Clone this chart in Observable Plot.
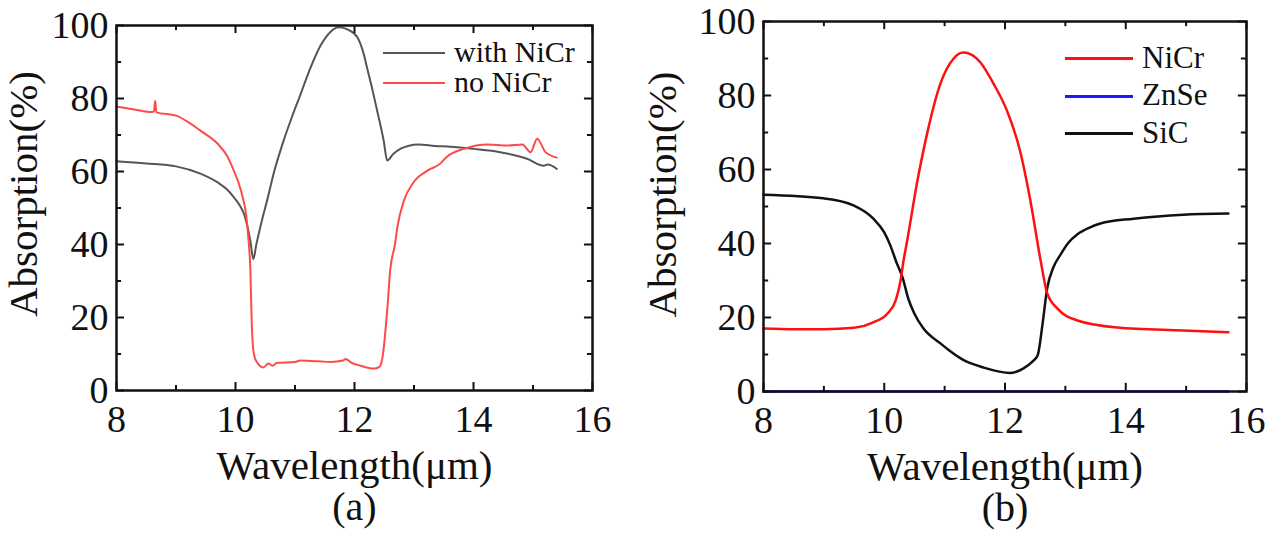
<!DOCTYPE html>
<html><head><meta charset="utf-8">
<script src="https://cdn.jsdelivr.net/npm/d3@7"></script>
<script src="https://cdn.jsdelivr.net/npm/@observablehq/plot@0.6"></script>
<style>
body{margin:0;background:#fff;}
#wrap{position:relative;width:1270px;height:538px;overflow:hidden;}
.panel{position:absolute;top:0;}
.item{position:absolute;display:flex;align-items:center;white-space:nowrap;color:#111;}
.sw{display:inline-block;}
#wrap, #wrap *{font-family:"Liberation Serif","Times New Roman",serif !important;}
</style></head><body><div id="wrap"></div>
<script>
// ---- axes ----
const xMajor = [8, 10, 12, 14, 16];
const xMinor = [9, 11, 13, 15];
const yMajor = [0, 20, 40, 60, 80, 100];
const yMinor = [10, 30, 50, 70, 90];
const xLabel = "Wavelength(μm)";
const yLabel = "Absorption(%)";

// ---- panel (a) series: [wavelength µm, absorption %] ----
const aNames = ["with NiCr", "no NiCr"];
const withNiCr = [
  [8.0,62.8],[8.5,62.2],[9.0,61.4],[9.41,59.4],[9.70,57.0],[9.85,55.2],[9.97,53.0],[10.08,50.5],[10.14,48.5],
  [10.2,45.0],[10.25,41.0],[10.30,36.0],[10.35,40.0],[10.45,47.0],[10.53,52.0],[10.65,60.0],[10.81,68.5],[10.95,75.0],
  [11.09,81.0],[11.25,88.0],[11.43,94.5],[11.6,98.3],[11.73,99.5],[11.9,98.8],[12.05,96.7],[12.15,92.5],
  [12.21,88.5],[12.30,82.5],[12.38,76.7],[12.49,68.5],[12.55,63.0],[12.65,64.8],[12.77,66.2],[12.9,67.0],
  [13.08,67.4],[13.35,67.0],[13.61,66.8],[14.0,66.2],[14.45,65.3],[14.9,63.5],[15.18,61.6],[15.25,61.9],[15.4,60.7]
];
const noNiCr = [
  [8.0,77.8],[8.3,77.0],[8.6,76.3],[8.63,76.5],[8.65,79.4],[8.67,76.2],[9.0,75.3],[9.2,73.6],[9.41,71.2],
  [9.70,67.6],[9.85,64.5],[9.97,60.3],[10.05,57.0],[10.12,53.0],[10.18,48.0],[10.22,41.0],[10.25,33.0],
  [10.27,20.0],[10.30,11.0],[10.35,8.0],[10.47,6.3],[10.55,7.4],[10.62,6.8],[10.70,7.6],[11.0,7.8],
  [11.09,8.2],[11.4,8.0],[11.6,7.8],[11.81,8.2],[11.85,8.6],[11.95,7.6],[12.1,6.8],[12.32,6.0],[12.42,6.5],
  [12.47,9.0],[12.55,22.0],[12.6,33.0],[12.68,40.0],[12.72,44.7],[12.83,52.0],[12.99,57.0],[13.23,60.3],
  [13.45,62.3],[13.5,63.2],[13.55,64.0],[13.84,66.2],[14.24,67.4],[14.57,67.1],[14.82,67.4],[14.96,65.3],
  [15.07,69.0],[15.21,65.3],[15.4,63.8]
];

// ---- panel (b) series ----
const bNames = ["NiCr", "ZnSe", "SiC"];
const simNiCr = [
  [8.0,17.0],[8.5,16.8],[9.0,16.8],[9.5,17.2],[9.82,18.7],[10.05,21.0],[10.19,24.6],[10.27,30.0],[10.32,35.4],
  [10.38,40.8],[10.55,57.0],[10.71,69.7],[10.93,83.2],[11.15,90.0],[11.31,91.6],[11.45,91.0],[11.59,89.0],
  [11.81,83.2],[12.03,76.0],[12.25,65.0],[12.42,51.6],[12.59,35.4],[12.7,26.5],[12.87,22.4],[13.2,19.2],
  [13.86,17.3],[14.95,16.5],[15.7,16.0]
];
const simZnSe = [[8.0,0],[10.0,0],[12.0,0],[14.0,0],[15.7,0]];
const simSiC = [
  [8.0,53.2],[8.99,52.2],[9.49,50.3],[9.82,46.7],[10.0,43.0],[10.1,39.5],[10.2,35.0],[10.3,31.0],[10.4,25.0],
  [10.5,21.0],[10.65,17.0],[10.93,13.0],[11.1,10.8],[11.3,8.6],[11.64,6.5],[12.09,5.0],[12.3,6.2],[12.45,8.0],
  [12.54,9.7],[12.62,18.0],[12.7,28.0],[12.8,33.5],[12.92,37.0],[13.05,40.2],[13.2,42.5],[13.4,44.3],
  [13.58,45.4],[14.13,46.7],[14.95,47.8],[15.7,48.1]
];

const font = "Liberation Serif";
function setFont(el){ el.style.setProperty("font-family", "'Liberation Serif', 'Times New Roman', serif", "important"); }

function tickRules(){
  return [
    Plot.ruleX(xMajor, {x: d => d, y1: 0, y2: 2.2, strokeWidth: 2, stroke: "#111"}),
    Plot.ruleX(xMinor, {x: d => d, y1: 0, y2: 1.4, strokeWidth: 2, stroke: "#111"}),
    Plot.ruleX(xMajor, {x: d => d, y1: 100, y2: 97.8, strokeWidth: 2, stroke: "#111"}),
    Plot.ruleX(xMinor, {x: d => d, y1: 100, y2: 98.6, strokeWidth: 2, stroke: "#111"}),
    Plot.ruleY(yMajor, {y: d => d, x1: 8, x2: 8.135, strokeWidth: 2, stroke: "#111"}),
    Plot.ruleY(yMinor, {y: d => d, x1: 8, x2: 8.085, strokeWidth: 2, stroke: "#111"}),
    Plot.ruleY(yMajor, {y: d => d, x1: 16, x2: 15.865, strokeWidth: 2, stroke: "#111"}),
    Plot.ruleY(yMinor, {y: d => d, x1: 16, x2: 15.915, strokeWidth: 2, stroke: "#111"})
  ];
}

function panel(lines, m, tag, ylab){
  const p = Plot.plot({
    width: 635, height: 538,
    marginLeft: m[0], marginRight: m[1], marginTop: m[2], marginBottom: m[3],
    x: {domain: [8, 16]},
    y: {domain: [0, 100]},
    style: {fontFamily: font, fontSize: "38px", color: "#111", background: "transparent", overflow: "visible"},
    marks: [
      Plot.axisX(xMajor, {tickSize: 0, tickPadding: 15, fontSize: 38, fontFamily: font, label: null}),
      Plot.axisY(yMajor, {tickSize: 0, tickPadding: 8, fontSize: 38, fontFamily: font, label: null}),
      ...lines,
      ...tickRules(),
      Plot.frame({stroke: "#111", strokeWidth: 2.5}),
      Plot.text([xLabel], {text: d => d, frameAnchor: "bottom", lineAnchor: "middle", textAnchor: "middle", dy: 75, fontSize: 41, fontFamily: font, fill: "#111"}),
      Plot.text([tag], {text: d => d, frameAnchor: "bottom", lineAnchor: "middle", textAnchor: "middle", dy: 117, fontSize: 40, fontFamily: font, fill: "#111"}),
      Plot.text([yLabel], {text: d => d, frameAnchor: "left", rotate: -90, textAnchor: "middle", lineAnchor: "middle", dx: ylab[0], dy: ylab[1], fontSize: 41, fontFamily: font, fill: "#111"})
    ]
  });
  setFont(p);
  p.querySelectorAll("text, tspan, g").forEach(setFont);
  return p;
}

const xy = {x: d => d[0], y: d => d[1]};
const plotA = panel([
  Plot.line(withNiCr, {...xy, stroke: "#555555", strokeWidth: 2, curve: "monotone-x"}),
  Plot.line(noNiCr, {...xy, stroke: "#ff4a4a", strokeWidth: 2, curve: "monotone-x"})
], [116, 43, 25, 148], "(a)", [-93, -14]);

const plotB = panel([
  Plot.line(simZnSe, {...xy, stroke: "#1a1aff", strokeWidth: 2.5}),
  Plot.line(simSiC, {...xy, stroke: "#111111", strokeWidth: 2.5, curve: "monotone-x"}),
  Plot.line(simNiCr, {...xy, stroke: "#ff1010", strokeWidth: 2.5, curve: "monotone-x"})
], [128, 24, 21, 147], "(b)", [-101, -12]);

const wrap = document.getElementById("wrap");
const pa = document.createElement("div"); pa.className = "panel"; pa.style.left = "0px"; pa.appendChild(plotA);
const pb = document.createElement("div"); pb.className = "panel"; pb.style.left = "635px"; pb.appendChild(plotB);
wrap.appendChild(pa); wrap.appendChild(pb);

function legendItem(label, color, left, cy, swW, fs, sw){
  const it = document.createElement("div");
  it.className = "item";
  setFont(it);
  it.style.left = left + "px";
  it.style.top = (cy - fs * 0.6) + "px";
  it.style.height = (fs * 1.2) + "px";
  it.style.fontSize = fs + "px";
  const s = document.createElement("span");
  s.className = "sw";
  s.style.width = swW + "px";
  s.style.height = sw + "px";
  s.style.background = color;
  s.style.marginRight = "9px";
  s.style.marginTop = "2px";
  const t = document.createElement("span");
  setFont(t);
  t.textContent = label;
  it.appendChild(s); it.appendChild(t);
  wrap.appendChild(it);
}
const aColors = ["#555555", "#ff4a4a"];
aNames.forEach((n, i) => legendItem(n, aColors[i], 383, 52 + i * 30, 62, 30, 2.5));
const bColors = ["#ff1010", "#1a1aff", "#111111"];
bNames.forEach((n, i) => legendItem(n, bColors[i], 1065, 58 + i * 37.5, 68, 31, 3));
</script></body></html>
